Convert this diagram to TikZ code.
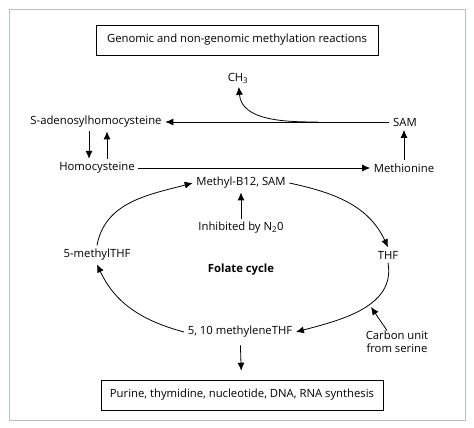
\documentclass[tikz,border=0pt]{standalone}
\usepackage{fontspec}
\setmainfont{Open Sans}
\usetikzlibrary{arrows.meta}
\definecolor{framegray}{RGB}{178,198,194}

\begin{document}
\begin{tikzpicture}[x=1pt,y=-1pt,>={Latex[length=8pt,width=7pt]},line width=0.8pt,font=\fontsize{11.3}{13.5}\selectfont,
	box/.style={draw,line width=0.6pt,minimum width=282pt,minimum height=30pt}]

\useasboundingbox (0,0) rectangle (474,428);
\draw[framegray,line width=1pt] (9.5,9.5) rectangle (465.5,420.5);

\node[box]   (top)  at (237,40)      	{Genomic and non-genomic methylation reactions};
\node   (ch3)  at (238,78)      	{CH\textsubscript{3}};
\node   (sah)  at (96,122)      	{S-adenosylhomocysteine};
\node   (sam)  at (405,122)      	{SAM};
\node   (hcy)  at (97,168)      	{Homocysteine};
\node   (met)  at (404,168)      	{Methionine};
\node   (mb12) at (241,183)      	{Methyl-B12, SAM};
\node   (n2o)  at (241,228)      	{Inhibited by N\textsubscript{2}0};
\node   (mthf) at (97,255)      	{5-methylTHF};
\node   (thf)  at (388,255)      	{THF};
\node   (folate) at (241,270)      	{\textbf{Folate cycle}};
\node   (mlthf) at (240,332)      	{5, 10 methyleneTHF};
\node[align=center,inner sep=0pt]   (carbon) at (397,342)      	{Carbon unit\\from serine};
\node[box]   (bottom) at (242,395)      	{Purine, thymidine, nucleotide, DNA, RNA synthesis};

\coordinate (split) at (318,122);
\coordinate (serine) at (371,307);

	\path[->] (sam)  edge	  	(sah)
						(split)  edge[out=180,in=-85]	  	(ch3)
						([xshift=-8pt]hcy.north |- sah.south)  edge	  	([xshift=-8pt]hcy.north)
						([xshift=10pt]hcy.north)  edge	  	([xshift=10pt]hcy.north |- sah.south)
						(met.north)  edge	  	(met.north |- sam.south)
						(hcy)  edge	  	(met)
						(n2o)  edge	  	(mb12)
						(mthf.north)  edge[out=80,in=195]	  	(mb12.west)
						(mb12.east)  edge[out=-12,in=115]	  	(thf.north)
						(thf.south)  edge[out=-80,in=15]	  	(mlthf.east)
						(mlthf.west)  edge[out=165,in=-65]	  	(mthf.south)
						([xshift=-10pt]carbon.north)  edge	  	(serine)
						(mlthf)  edge[shorten <=4pt,shorten >=9pt]	  	(bottom);
\end{tikzpicture}
\end{document}
